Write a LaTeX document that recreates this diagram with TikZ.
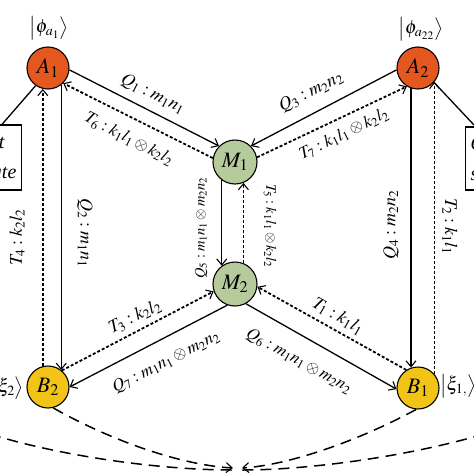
\documentclass[tikz,border=0pt]{standalone}
\usepackage{mathptmx}
\usepackage{fontspec}
\setmainfont{Liberation Serif}
\usetikzlibrary{arrows.meta}
\definecolor{aor}{RGB}{228,88,32}
\definecolor{mgr}{RGB}{182,203,156}
\definecolor{byl}{RGB}{243,196,24}
\tikzset{
 st/.style={circle,draw,line width=1.1pt,inner sep=0pt,font=\fontsize{22}{22}\selectfont},
 anode/.style={st,fill=aor,minimum size=42pt},
 mnode/.style={st,fill=mgr,minimum size=44pt},
 bnode/.style={st,fill=byl,minimum size=42pt},
 tip/.style={-{Straight Barb[length=6pt,width=10pt,line width=1.1pt]}},
 sol/.style={line width=1.3pt,tip},
 dsh/.style={line width=1.8pt,dash pattern=on 3pt off 2pt,tip},
 lab/.style={inner sep=0pt,font=\fontsize{18}{18}\selectfont},
 labk/.style={inner sep=0pt,font=\fontsize{19}{19}\selectfont},
 labs/.style={inner sep=0pt,font=\fontsize{17}{17}\selectfont},
 labt/.style={inner sep=0pt,font=\fontsize{14.5}{14.5}\selectfont},
 lng/.style={line width=1.5pt,dash pattern=on 11pt off 7pt},
 boxn/.style={draw,line width=1.2pt,inner sep=5pt,font=\itshape\fontsize{20}{30}\selectfont},
}
\begin{document}
\begin{tikzpicture}[x=1pt,y=-1pt]
\useasboundingbox (0,0) rectangle (474,474);
\clip (0,0) rectangle (474,474);
% nodes
\node[anode] (A1) at (48,68) {$A_1$};
\node[anode] (A2) at (418,68) {$A_2$};
\node[mnode] (M1) at (235,162) {$M_1$};
\node[mnode] (M2) at (235,284) {$M_2$};
\node[bnode] (B2) at (48,387) {$B_2$};
\node[bnode] (B1) at (418,388) {$B_1$};
% kets
\node[labk] (k1) at (49,28) {$\bigl|\phi_{a_1}\bigr\rangle$};
\node[labk] (k2) at (421,29) {$\bigl|\phi_{a_{22}}\bigr\rangle$};
\node[labk,anchor=east] (k3) at (24,388) {$\bigl|\xi_2\bigr\rangle$};
\node[labk,anchor=west] (k4) at (440,386) {$\bigl|\xi_{1,}\bigr\rangle$};
% side boxes
\node[boxn,minimum height=65pt,anchor=east,align=right] (inb) at (22,157.5) {Input\hspace*{12pt}\\ state};
\node[boxn,minimum height=63pt,anchor=west,align=left] (outb) at (465,158.5) {Output\\ state};
\draw[line width=1.3pt] (A1.235) -- (inb.north east -| 2,0);
\draw[line width=1.3pt] (A2.-42) -- (474,125);
% diagonal upper
\draw[sol] (A1.-5) -- (M1.135);
\draw[dsh] (M1.170) -- (A1.-45);
\draw[sol] (A2.185) -- (M1.45);
\draw[dsh] (M1.12) -- (A2.239);
% verticals
\draw[sol] (A1.-52) -- (B2.52);
\draw[dsh] (B2.104) -- (A1.-104);
\draw[sol] (A2.-109.5) -- (B1.109.5);
\draw[dsh] (B1.40.4) -- (A2.-40.4);
\draw[sol] (M1.-126.2) -- (M2.126.2);
\draw[dsh] (M2.68.7) -- (M1.-68.7);
% diagonal lower
\draw[dsh] (B2.50) -- (M2.199);
\draw[sol] (M2.250) -- (B2.0);
\draw[dsh] (B1.123) -- (M2.-7);
\draw[sol] (M2.-61) -- (B1.183);
% labels
\node[lab,rotate=-27] (lq1) at (153,94) {$Q_1 : m_1 n_1$};
\node[labs,rotate=-27] (lt6) at (129,139) {$T_6 : k_1 l_1 \otimes k_2 l_2$};
\node[lab,rotate=27] (lq3) at (311,92) {$Q_3 : m_2 n_2$};
\node[labs,rotate=26] (lt7) at (344,134) {$T_7 : k_1 l_1 \otimes k_2 l_2$};
\node[lab,rotate=-90] (lq2) at (85,233) {$Q_2 : m_1 n_1$};
\node[lab,rotate=90] (lt4) at (17,237) {$T_4 : k_2 l_2$};
\node[lab,rotate=90] (lq4) at (391,225) {$Q_4 : m_2 n_2$};
\node[lab,rotate=-90] (lt2) at (450,227) {$T_2 : k_1 l_1$};
\node[labt,rotate=90] (lq5) at (201,228) {$Q_5 : m_1 n_1 \otimes m_2 n_2$};
\node[labt,rotate=-90] (lt5) at (270,226) {$T_5 : k_1 l_1 \otimes k_2 l_2$};
\node[lab,rotate=27] (lt3) at (135,317) {$T_3 : k_2 l_2$};
\node[labs,rotate=27] (lq7) at (166,362) {$Q_7 : m_1 n_1 \otimes m_2 n_2$};
\node[lab,rotate=-30] (lt1) at (338,316) {$T_1 : k_1 l_1$};
\node[labs,rotate=-29] (lq6) at (299,361) {$Q_6 : m_1 n_1 \otimes m_2 n_2$};
% bottom curves
\coordinate (cl) at (233,468);
\coordinate (cr) at (242,468);
\coordinate (ol) at (-10,434);
\coordinate (or) at (484,434);
\draw[lng,tip] (B2.-76) .. controls (110,440) and (180,465) .. (cl);
\draw[lng,tip] (B1.-95) .. controls (360,440) and (290,465) .. (cr);
\draw[lng] (ol) .. controls (60,456) and (160,470) .. (cl |- 0,470);
\draw[lng] (or) .. controls (410,456) and (310,470) .. (cr |- 0,470);
\end{tikzpicture}
\end{document}
